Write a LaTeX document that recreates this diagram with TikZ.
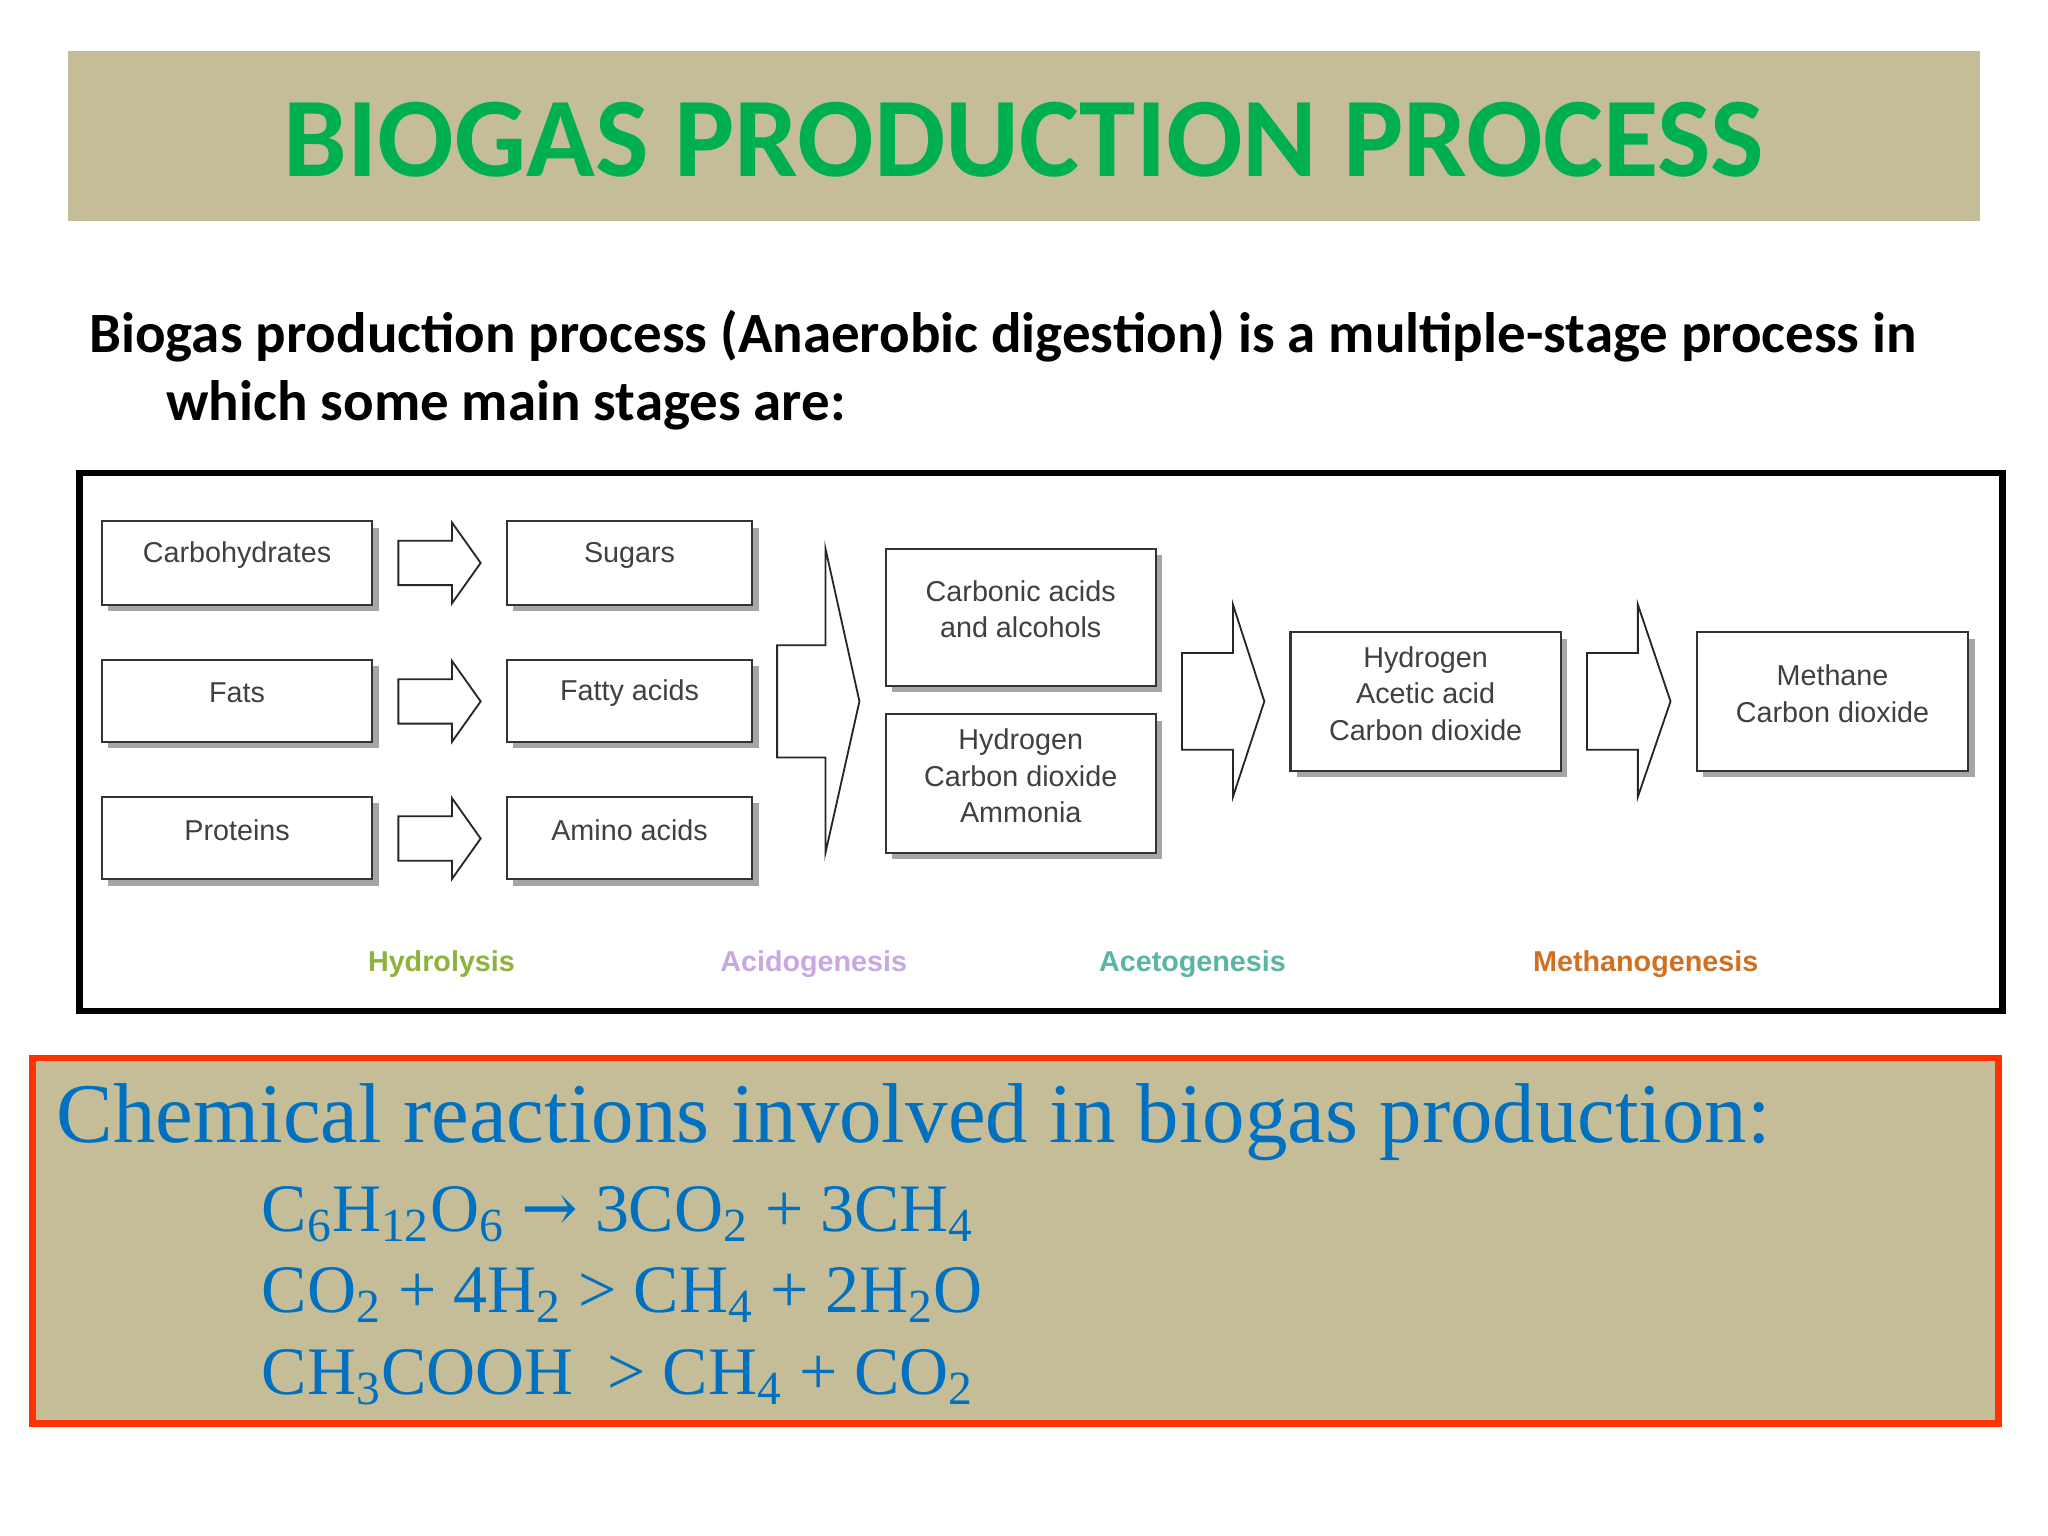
\documentclass[tikz,border=0pt]{standalone}
\usepackage{fontspec}
\setmainfont{Liberation Serif}
\setsansfont{Carlito}
\newfontfamily\boxfont{Liberation Sans}
\newfontfamily\arrfont{DejaVu Serif}
\definecolor{tan}{RGB}{196,189,151}
\definecolor{tgreen}{RGB}{0,176,80}
\definecolor{eqblue}{RGB}{0,112,192}
\definecolor{redb}{RGB}{255,51,0}
\definecolor{hyd}{RGB}{141,179,58}
\definecolor{acid}{RGB}{200,168,224}
\definecolor{acet}{RGB}{90,181,165}
\definecolor{meth}{RGB}{208,112,32}
\newcommand{\sbs}[1]{\textsubscript{#1}}
\begin{document}
\begin{tikzpicture}[x=0.5pt,y=-0.5pt,
  lbl/.style={font=\boxfont\bfseries\fontsize{11}{13}\selectfont},
  arr/.style={draw=black!85,line width=0.7pt,fill=white},
  eq/.style={anchor=base west,inner sep=0,text=eqblue,font=\fontsize{26}{30}\selectfont}]
\useasboundingbox (0,0) rectangle (1568,1176);
\fill[white] (0,0) rectangle (1568,1176);
% title
\fill[tan] (52,39) rectangle (1516,169);
\node[font=\sffamily\bfseries\fontsize{43.4}{48}\selectfont,text=tgreen] (title) at (784,107) {BIOGAS PRODUCTION PROCESS};
% intro text
\node[anchor=base west,font=\sffamily\bfseries\fontsize{21.8}{26}\selectfont,inner sep=0] (l1) at (68,270) {Biogas production process (Anaerobic digestion) is a multiple-stage process in};
\node[anchor=base west,font=\sffamily\bfseries\fontsize{21.8}{26}\selectfont,inner sep=0] (l2) at (127,322) {which some main stages are:};
% frame
\draw[line width=2.5pt] (61,362) rectangle (1533,774);
% boxes with shadow
\newcommand{\stgbox}[6]{%
  \fill[black!35] (#1+5,#2+5) rectangle (#3+5,#4+5);
  \draw[fill=white,draw=black!80,line width=0.8pt] (#1,#2) rectangle (#3,#4);
  \node[align=center,font=\boxfont\fontsize{11}{14}\selectfont,text=black!75] (#5) at ({(#1+#3)/2},{(#2+#4)/2-6}) {#6};}
\stgbox{78}{399}{285}{463}{carb}{Carbohydrates}
\stgbox{388}{399}{576}{463}{sug}{Sugars}
\stgbox{78}{505}{285}{568}{fats}{Fats}
\stgbox{388}{505}{576}{568}{fatty}{Fatty acids}
\stgbox{78}{610}{285}{673}{prot}{Proteins}
\stgbox{388}{610}{576}{673}{amino}{Amino acids}
\stgbox{678}{420}{885}{525}{carbo}{Carbonic acids\\and alcohols}
\stgbox{678}{547}{885}{653}{hyd1}{Hydrogen\\Carbon dioxide\\Ammonia}
\stgbox{988}{484}{1195}{590}{hyd2}{Hydrogen\\Acetic acid\\Carbon dioxide}
\stgbox{1299}{484}{1507}{590}{methb}{Methane\\Carbon dioxide}
% small arrows
\foreach \cy in {431,537,642}{
  \draw[arr] (305,\cy-17) -- (346,\cy-17) -- (346,\cy-31) -- (368,\cy) -- (346,\cy+31) -- (346,\cy+17) -- (305,\cy+17) -- cycle;}
% big arrows
\draw[arr] (595,494) -- (632,494) -- (632,420) -- (658,537) -- (632,653) -- (632,580) -- (595,580) -- cycle;
\draw[arr] (905,500) -- (944,500) -- (944,463) -- (968,537) -- (944,610) -- (944,574) -- (905,574) -- cycle;
\draw[arr] (1215,500) -- (1254,500) -- (1254,463) -- (1279,537) -- (1254,610) -- (1254,574) -- (1215,574) -- cycle;
% stage labels
\node[lbl,text=hyd] (lh) at (338,738) {Hydrolysis};
\node[lbl,text=acid] (la) at (623,738) {Acidogenesis};
\node[lbl,text=acet] (lc) at (913,738) {Acetogenesis};
\node[lbl,text=meth] (lm) at (1260,738) {Methanogenesis};
% reactions box
\draw[fill=tan,draw=redb,line width=2.5pt] (25,810) rectangle (1530,1090);
\node[anchor=base west,inner sep=0,text=eqblue,font=\fontsize{32.5}{36}\selectfont] (chem) at (43,875) {Chemical reactions involved in biogas production:};
\node[eq] (e1) at (200,943) {C\sbs{6}H\sbs{12}O\sbs{6} {\arrfont →} 3CO\sbs{2} + 3CH\sbs{4}};
\node[eq] (e2) at (200,1005) {CO\sbs{2} + 4H\sbs{2} > CH\sbs{4} + 2H\sbs{2}O};
\node[eq] (e3) at (200,1068) {CH\sbs{3}COOH\ \ > CH\sbs{4} + CO\sbs{2}};
\end{tikzpicture}
\end{document}
